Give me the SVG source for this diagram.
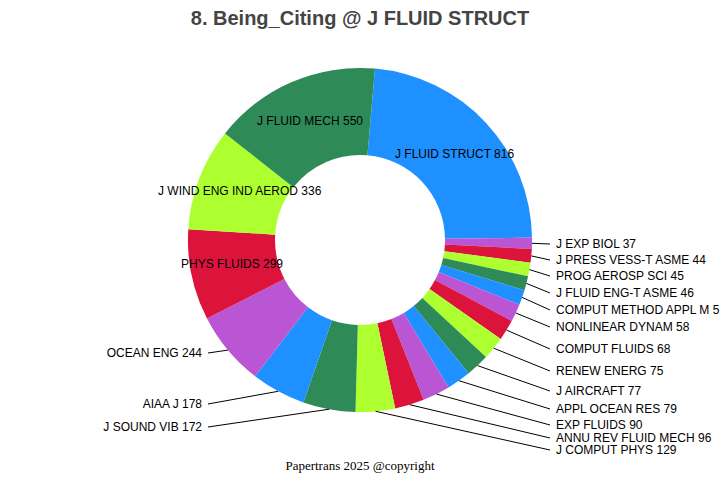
<svg xmlns="http://www.w3.org/2000/svg" width="720" height="480" viewBox="0 0 720 480">
<style>
text{font-family:"Liberation Sans",Arial,sans-serif;font-size:12px;fill:#000}
.b{fill:#1E90FF}.g{fill:#2E8B57}.y{fill:#ADFF2F}.r{fill:#DC143C}.p{fill:#BA55D3}
.l{stroke:#000;stroke-width:1;fill:none}
</style>
<rect width="720" height="480" fill="#fff"/>
<text x="360" y="25" text-anchor="middle" style="font-size:20px;font-weight:bold;fill:#444">8. Being_Citing @ J FLUID STRUCT</text>
<g id="slices">
<path id="s1" class="b" d="M375.0,68.6 A172,172 0 0 1 532.0,237.6 L445.0,238.8 A85,85 0 0 0 367.4,155.3 Z"/>
<path id="s2" class="p" d="M532.0,237.6 A172,172 0 0 1 531.8,249.0 L444.9,244.4 A85,85 0 0 0 445.0,238.8 Z"/>
<path id="s3" class="r" d="M531.8,249.0 A172,172 0 0 1 530.5,262.8 L444.3,251.2 A85,85 0 0 0 444.9,244.4 Z"/>
<path id="s4" class="y" d="M530.5,262.8 A172,172 0 0 1 528.1,276.3 L443.1,258.0 A85,85 0 0 0 444.3,251.2 Z"/>
<path id="s5" class="g" d="M528.1,276.3 A172,172 0 0 1 524.5,290.3 L441.3,264.9 A85,85 0 0 0 443.1,258.0 Z"/>
<path id="s6" class="b" d="M524.5,290.3 A172,172 0 0 1 519.4,304.7 L438.8,272.0 A85,85 0 0 0 441.3,264.9 Z"/>
<path id="s7" class="p" d="M519.4,304.7 A172,172 0 0 1 511.7,321.0 L435.0,280.0 A85,85 0 0 0 438.8,272.0 Z"/>
<path id="s8" class="r" d="M511.7,321.0 A172,172 0 0 1 500.7,338.9 L429.5,288.9 A85,85 0 0 0 435.0,280.0 Z"/>
<path id="s9" class="y" d="M500.7,338.9 A172,172 0 0 1 486.0,357.1 L422.3,297.9 A85,85 0 0 0 429.5,288.9 Z"/>
<path id="s10" class="g" d="M486.0,357.1 A172,172 0 0 1 468.7,373.3 L413.7,305.9 A85,85 0 0 0 422.3,297.9 Z"/>
<path id="s11" class="b" d="M468.7,373.3 A172,172 0 0 1 448.6,387.4 L403.8,312.9 A85,85 0 0 0 413.7,305.9 Z"/>
<path id="s12" class="p" d="M448.6,387.4 A172,172 0 0 1 423.6,399.8 L391.4,319.0 A85,85 0 0 0 403.8,312.9 Z"/>
<path id="s13" class="r" d="M423.6,399.8 A172,172 0 0 1 395.2,408.4 L377.4,323.2 A85,85 0 0 0 391.4,319.0 Z"/>
<path id="s14" class="y" d="M395.2,408.4 A172,172 0 0 1 355.5,412.0 L357.8,325.0 A85,85 0 0 0 377.4,323.2 Z"/>
<path id="s15" class="g" d="M355.5,412.0 A172,172 0 0 1 303.4,402.4 L332.0,320.3 A85,85 0 0 0 357.8,325.0 Z"/>
<path id="s16" class="b" d="M303.4,402.4 A172,172 0 0 1 255.1,376.3 L308.1,307.3 A85,85 0 0 0 332.0,320.3 Z"/>
<path id="s17" class="p" d="M255.1,376.3 A172,172 0 0 1 207.0,318.6 L284.4,278.9 A85,85 0 0 0 308.1,307.3 Z"/>
<path id="s18" class="r" d="M207.0,318.6 A172,172 0 0 1 188.3,229.2 L275.2,234.7 A85,85 0 0 0 284.4,278.9 Z"/>
<path id="s19" class="y" d="M188.3,229.2 A172,172 0 0 1 225.0,133.4 L293.3,187.3 A85,85 0 0 0 275.2,234.7 Z"/>
<path id="s20" class="g" d="M225.0,133.4 A172,172 0 0 1 375.0,68.6 L367.4,155.3 A85,85 0 0 0 293.3,187.3 Z"/>
</g>
<g id="connectors" class="l">
<path d="M532.0,243.3 L550,244"/>
<path d="M531.3,255.9 L550,260"/>
<path d="M529.4,269.6 L550,276"/>
<path d="M526.4,283.4 L550,293"/>
<path d="M522.1,297.4 L550,310"/>
<path d="M515.8,313.0 L550,327"/>
<path d="M506.5,330.1 L550,349"/>
<path d="M493.7,348.2 L550,371"/>
<path d="M477.5,365.6 L550,391"/>
<path d="M458.9,380.7 L550,409"/>
<path d="M436.5,394.1 L550,425"/>
<path d="M409.7,404.7 L550,438"/>
<path d="M375.6,411.3 L550,450"/>
<path d="M329.2,409.2 L208,427"/>
<path d="M278.2,391.3 L208,404"/>
<path d="M227.9,350.1 L208,353"/>
</g>
<g id="labels">
<text x="395" y="158">J FLUID STRUCT 816</text>
<text x="257" y="125">J FLUID MECH 550</text>
<text x="158" y="195">J WIND ENG IND AEROD 336</text>
<text x="181" y="268">PHYS FLUIDS 299</text>
<text x="556" y="248">J EXP BIOL 37</text>
<text x="556" y="264">J PRESS VESS-T ASME 44</text>
<text x="556" y="280">PROG AEROSP SCI 45</text>
<text x="556" y="297">J FLUID ENG-T ASME 46</text>
<text x="556" y="314">COMPUT METHOD APPL M 5</text>
<text x="556" y="331">NONLINEAR DYNAM 58</text>
<text x="556" y="353">COMPUT FLUIDS 68</text>
<text x="556" y="375">RENEW ENERG 75</text>
<text x="556" y="395">J AIRCRAFT 77</text>
<text x="556" y="413">APPL OCEAN RES 79</text>
<text x="556" y="429">EXP FLUIDS 90</text>
<text x="556" y="442">ANNU REV FLUID MECH 96</text>
<text x="556" y="454">J COMPUT PHYS 129</text>
<text x="202" y="357" text-anchor="end">OCEAN ENG 244</text>
<text x="202" y="408" text-anchor="end">AIAA J 178</text>
<text x="202" y="431" text-anchor="end">J SOUND VIB 172</text>
</g>
<text x="360" y="470" text-anchor="middle" style="font-family:'Liberation Serif',serif;font-size:13px">Papertrans 2025 @copyright</text>
</svg>
